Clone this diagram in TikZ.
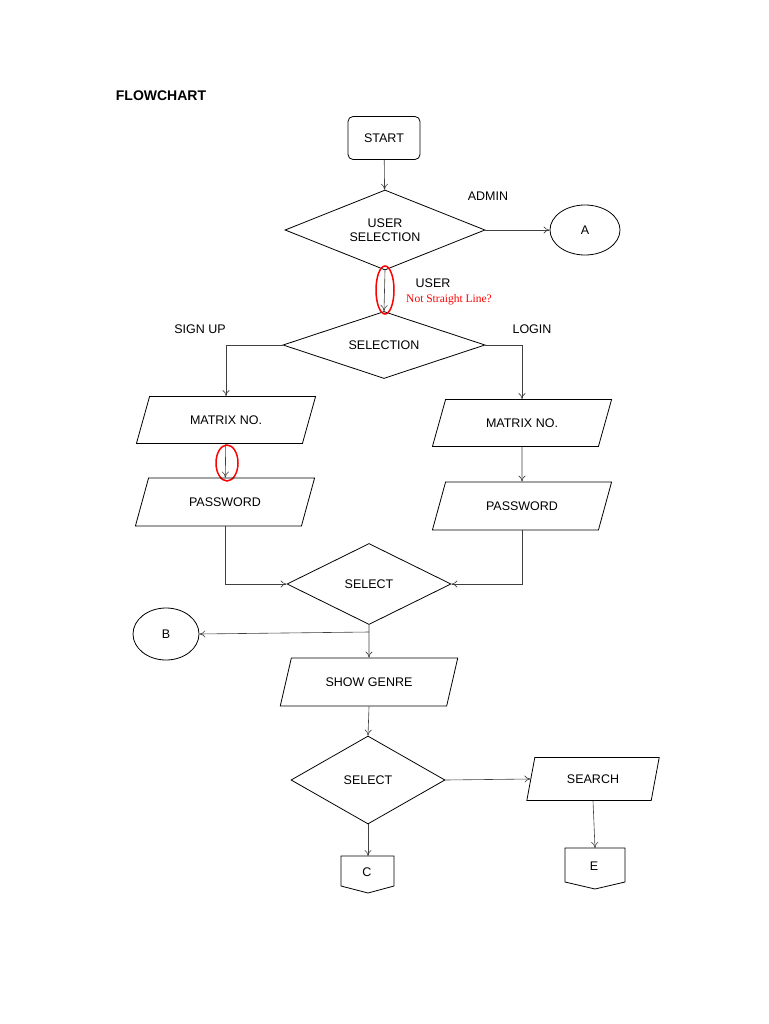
\documentclass[tikz,border=0pt]{standalone}
\usepackage{fontspec}
\setmainfont{Liberation Sans}
\newfontfamily\serifz{Liberation Serif}
\usetikzlibrary{shapes.geometric,arrows.meta}
\begin{document}
\begin{tikzpicture}[x=1pt,y=-1pt,
  every node/.style={font=\fontsize{12.5}{14.5}\selectfont},
  box/.style={draw,line width=0.8pt},
  dia/.style={draw,diamond,aspect=2.4,inner sep=0pt,line width=0.8pt},
  par/.style={draw,trapezium,trapezium left angle=55,trapezium right angle=125,trapezium stretches=true,inner sep=0pt,line width=0.8pt},
  circ/.style={draw,ellipse,line width=0.8pt},
  arr/.style={draw=black!75,line width=0.6pt,-{To[length=6pt,width=7pt]}},
  redo/.style={draw=red,line width=1.5pt,ellipse}]
\useasboundingbox (0,0) rectangle (768,1024);
\node[font=\bfseries\fontsize{14}{16}\selectfont] (title) at (161,96) {FLOWCHART};
\node[box,rounded corners=5pt,minimum width=72pt,minimum height=43pt] (start) at (384,138) {START};
\node[dia,minimum width=200pt,minimum height=80pt,align=center] (us) at (385,230) {USER\\SELECTION};
\node[circ,minimum width=70pt,minimum height=50pt] (A) at (585,230) {A};
\node (admin) at (488,196) {ADMIN};
\node[dia,minimum width=202pt,minimum height=67pt] (sel) at (384,345) {SELECTION};
\node (user) at (433,283) {USER};
\node[text=red,font=\serifz\fontsize{11.5}{13}\selectfont] (nsl) at (449,300) {Not Straight Line?};
\node[redo,minimum width=18pt,minimum height=48pt] (r1) at (385,290) {};
\node (signup) at (200,329) {SIGN UP};
\node (login) at (532,329) {LOGIN};
\node[par,minimum width=180pt,minimum height=47pt] (m1) at (226,420) {MATRIX NO.};
\node[par,minimum width=180pt,minimum height=47pt] (m2) at (522,423) {MATRIX NO.};
\node[redo,minimum width=22pt,minimum height=36pt] (r2) at (227,463) {};
\node[par,minimum width=180pt,minimum height=48pt] (p1) at (225,502) {PASSWORD};
\node[par,minimum width=180pt,minimum height=48pt] (p2) at (522,506) {PASSWORD};
\node[dia,minimum width=164pt,minimum height=81pt] (s1) at (369,584) {SELECT};
\node[circ,minimum width=66pt,minimum height=52pt] (B) at (166,634) {B};
\node[par,minimum width=179pt,minimum height=48pt] (sg) at (369,682) {SHOW GENRE};
\node[dia,minimum width=154pt,minimum height=88pt] (s2) at (368,780) {SELECT};
\node[par,trapezium left angle=68,trapezium right angle=112,minimum width=133pt,minimum height=43pt] (search) at (593,779) {SEARCH};
\coordinate (Etop) at (595,848);
\coordinate (Ctop) at (368,856);
\draw[line width=0.8pt] (565,848) -- (625,848) -- (625,882) -- (595,889) -- (565,882) -- cycle;
\node (E) at (594,866) {E};
\draw[line width=0.8pt] (341,856) -- (394,856) -- (394,886) -- (368,893) -- (341,886) -- cycle;
\node (C) at (367,872) {C};
\coordinate (j1) at (369,632);
\draw[arr] (start) -- (us);
\draw[arr] (us.east) -- (A.west);
\draw[arr] (us.south) -- (sel.north);
\draw[arr] (sel.west) -| (m1.north);
\draw[arr] (sel.east) -| (m2.north);
\draw[arr] (m1) -- (p1);
\draw[arr] (m2) -- (p2);
\draw[arr] (p1.south) |- (s1.west);
\draw[arr] (p2.south) |- (s1.east);
\draw[arr] (s1.south) -- (sg.north);
\draw[arr] (j1) -- (B.east);
\draw[arr] (sg.south) -- (s2.north);
\draw[arr] (s2.east) -- (search.west);
\draw[arr] (search.south) -- (Etop);
\draw[arr] (s2.south) -- (Ctop);
\end{tikzpicture}
\end{document}
